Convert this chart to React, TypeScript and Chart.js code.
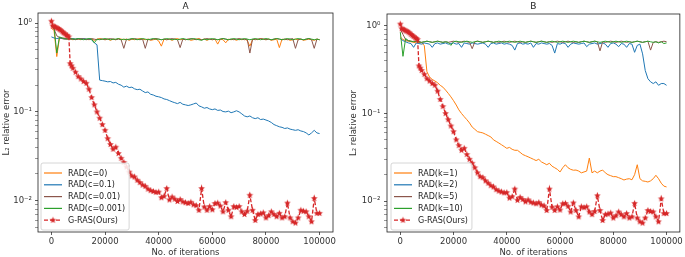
import React, { useEffect, useRef } from 'react';
import { Chart, registerables } from 'chart.js';
Chart.register(...registerables);

const FONT = '"DejaVu Sans", sans-serif';

// logging grid of the RAD runs (every 1000 iterations)
const ITERATIONS = Array.from({ length: 101 }, (_, i) => i * 1000);
const GRAS_ITER = [0, 500, 1000, 1500, 2000, 2500, 3000, 3500, 4000, 4500, 5000, 5500, 6000, 6500, 7000, 7500, 8000, ...ITERATIONS.slice(9)];

const X_TICKS = [0, 20000, 40000, 60000, 80000, 100000];
const Y_TICKS = [0.005, 0.006, 0.007, 0.008, 0.009, 0.01, 0.02, 0.03, 0.04, 0.05, 0.06, 0.07, 0.08, 0.09, 0.1, 0.2, 0.3, 0.4, 0.5, 0.6, 0.7, 0.8, 0.9, 1];
const Y_LABELS: Record<string, string> = { '1': '10⁰', '0.1': '10⁻¹', '0.01': '10⁻²' };

const GRAS = [
  1.05, 0.93, 0.92, 0.9, 0.88, 0.87, 0.85, 0.83, 0.8, 0.78, 0.76, 0.73, 0.72, 0.7, 0.35, 0.33, 0.31,
  0.28, 0.25, 0.235, 0.22, 0.21, 0.18, 0.145, 0.12, 0.1, 0.085, 0.072,
  0.062, 0.05, 0.043, 0.038, 0.04, 0.034, 0.03, 0.027, 0.024, 0.021,
  0.019, 0.0185, 0.017, 0.016, 0.015, 0.0145, 0.0135, 0.013, 0.0127, 0.0124,
  0.0125, 0.0108, 0.0112, 0.0137, 0.0102, 0.011, 0.0104, 0.0098, 0.0103, 0.0097,
  0.0095, 0.0093, 0.0096, 0.009, 0.0088, 0.0078, 0.0137, 0.0085, 0.0078, 0.0086,
  0.0079, 0.0093, 0.0094, 0.0087, 0.0075, 0.0095, 0.0078, 0.0066, 0.0086, 0.0084,
  0.0086, 0.0075, 0.007, 0.0076, 0.0115, 0.0078, 0.006, 0.007, 0.0071, 0.0073,
  0.0064, 0.0068, 0.0075, 0.007, 0.0066, 0.0072, 0.0064, 0.0066, 0.0094, 0.0064,
  0.0058, 0.0056, 0.0064, 0.0078, 0.0076, 0.0075, 0.0066, 0.0058, 0.0106, 0.0072, 0.0072,
];

// Panel A
const A_C0 = [
  0.88, 0.82, 0.42, 0.68, 0.67, 0.66, 0.67, 0.66, 0.65, 0.66,
  0.66, 0.65, 0.67, 0.66, 0.65, 0.66, 0.64, 0.66, 0.67, 0.66,
  0.65, 0.66, 0.64, 0.66, 0.65, 0.67, 0.66, 0.65, 0.66, 0.64,
  0.66, 0.65, 0.66, 0.67, 0.66, 0.65, 0.66, 0.64, 0.65, 0.66,
  0.63, 0.55, 0.66, 0.65, 0.66, 0.64, 0.66, 0.67, 0.65, 0.66,
  0.65, 0.66, 0.64, 0.65, 0.66, 0.67, 0.65, 0.66, 0.64, 0.66,
  0.65, 0.66, 0.58, 0.66, 0.65, 0.6, 0.66, 0.65, 0.66, 0.64,
  0.66, 0.65, 0.66, 0.64, 0.55, 0.65, 0.66, 0.65, 0.67, 0.66,
  0.65, 0.66, 0.64, 0.65, 0.66, 0.53, 0.66, 0.65, 0.66, 0.64,
  0.65, 0.66, 0.65, 0.66, 0.64, 0.65, 0.66, 0.65, 0.64, 0.66, 0.65,
];
const A_C01 = [
  0.7, 0.68, 0.67, 0.68, 0.67, 0.66, 0.67, 0.66, 0.67, 0.66,
  0.67, 0.66, 0.67, 0.66, 0.66, 0.65, 0.6, 0.57, 0.228, 0.225,
  0.222, 0.218, 0.22, 0.212, 0.215, 0.205, 0.2, 0.19, 0.195, 0.188,
  0.19, 0.182, 0.178, 0.18, 0.172, 0.165, 0.168, 0.158, 0.155, 0.15,
  0.148, 0.145, 0.14, 0.138, 0.134, 0.13, 0.127, 0.124, 0.128, 0.122,
  0.12, 0.118, 0.12, 0.123, 0.126, 0.117, 0.114, 0.11, 0.112, 0.108,
  0.106, 0.108, 0.104, 0.105, 0.101, 0.1, 0.102, 0.098, 0.1, 0.103,
  0.1, 0.095, 0.09, 0.088, 0.09, 0.086, 0.084, 0.086, 0.082, 0.083,
  0.081, 0.079, 0.076, 0.072, 0.07, 0.068, 0.067, 0.065, 0.066, 0.064,
  0.063, 0.062, 0.063, 0.061, 0.06, 0.058, 0.055, 0.058, 0.062, 0.058, 0.057,
];
const A_C001 = [
  0.95, 0.85, 0.72, 0.69, 0.68, 0.67, 0.66, 0.67, 0.66, 0.65,
  0.66, 0.67, 0.66, 0.65, 0.66, 0.67, 0.66, 0.65, 0.66, 0.66,
  0.65, 0.66, 0.67, 0.66, 0.65, 0.66, 0.65, 0.52, 0.66, 0.65,
  0.66, 0.67, 0.66, 0.65, 0.66, 0.52, 0.66, 0.65, 0.66, 0.67,
  0.66, 0.65, 0.66, 0.65, 0.66, 0.67, 0.66, 0.65, 0.53, 0.66,
  0.65, 0.66, 0.67, 0.66, 0.65, 0.66, 0.65, 0.66, 0.67, 0.66,
  0.65, 0.66, 0.65, 0.66, 0.67, 0.66, 0.65, 0.66, 0.65, 0.66,
  0.67, 0.66, 0.65, 0.66, 0.46, 0.66, 0.65, 0.66, 0.67, 0.66,
  0.65, 0.66, 0.65, 0.66, 0.67, 0.66, 0.65, 0.66, 0.65, 0.66,
  0.67, 0.52, 0.65, 0.66, 0.65, 0.66, 0.67, 0.65, 0.52, 0.66, 0.65,
];
const A_C0001 = [
  0.92, 0.9, 0.46, 0.7, 0.68, 0.67, 0.66, 0.67, 0.66, 0.66,
  0.67, 0.66, 0.65, 0.66, 0.67, 0.66, 0.6, 0.66, 0.65, 0.66,
  0.67, 0.66, 0.65, 0.66, 0.66, 0.67, 0.65, 0.66, 0.65, 0.66,
  0.67, 0.66, 0.65, 0.66, 0.67, 0.66, 0.65, 0.66, 0.67, 0.66,
  0.66, 0.65, 0.66, 0.67, 0.66, 0.65, 0.66, 0.65, 0.66, 0.67,
  0.66, 0.65, 0.66, 0.67, 0.66, 0.65, 0.64, 0.66, 0.65, 0.66,
  0.67, 0.66, 0.65, 0.66, 0.67, 0.66, 0.65, 0.66, 0.67, 0.66,
  0.65, 0.66, 0.67, 0.66, 0.65, 0.66, 0.67, 0.66, 0.65, 0.66,
  0.67, 0.66, 0.65, 0.66, 0.67, 0.66, 0.65, 0.66, 0.67, 0.66,
  0.65, 0.66, 0.67, 0.66, 0.65, 0.66, 0.67, 0.66, 0.65, 0.66, 0.65,
];

// Panel B
const B_K1 = [
  0.75, 0.7, 0.68, 0.67, 0.66, 0.65, 0.64, 0.65, 0.64, 0.6,
  0.3, 0.26, 0.245, 0.235, 0.225, 0.21, 0.2, 0.185, 0.17, 0.155,
  0.14, 0.125, 0.11, 0.1, 0.092, 0.085, 0.078, 0.07, 0.066, 0.062,
  0.061, 0.06, 0.058, 0.056, 0.054, 0.05, 0.048, 0.046, 0.044, 0.042,
  0.04, 0.041, 0.039, 0.038, 0.038, 0.036, 0.034, 0.033, 0.032, 0.031,
  0.03, 0.029, 0.03, 0.028, 0.027, 0.026, 0.027, 0.025, 0.024, 0.023,
  0.0215, 0.024, 0.026, 0.024, 0.023, 0.0225, 0.0226, 0.022, 0.021, 0.0215,
  0.022, 0.031, 0.021, 0.022, 0.021, 0.022, 0.0226, 0.021, 0.02, 0.0195,
  0.019, 0.019, 0.0185, 0.018, 0.0174, 0.0178, 0.018, 0.0175, 0.02, 0.026,
  0.018, 0.017, 0.0168, 0.0165, 0.017, 0.018, 0.0197, 0.018, 0.016, 0.0148, 0.0145,
];
const B_K2 = [
  0.72, 0.68, 0.66, 0.64, 0.63, 0.57, 0.64, 0.63, 0.62, 0.64,
  0.63, 0.62, 0.57, 0.63, 0.64, 0.62, 0.63, 0.64, 0.62, 0.63,
  0.64, 0.62, 0.63, 0.57, 0.64, 0.63, 0.62, 0.64, 0.63, 0.62,
  0.63, 0.64, 0.62, 0.57, 0.63, 0.64, 0.62, 0.63, 0.64, 0.62,
  0.63, 0.62, 0.6, 0.53, 0.63, 0.64, 0.62, 0.63, 0.62, 0.64,
  0.57, 0.63, 0.62, 0.64, 0.63, 0.62, 0.63, 0.6, 0.49, 0.63,
  0.62, 0.64, 0.63, 0.57, 0.62, 0.64, 0.63, 0.62, 0.63, 0.64,
  0.58, 0.62, 0.63, 0.64, 0.62, 0.63, 0.64, 0.62, 0.57, 0.63,
  0.64, 0.62, 0.58, 0.63, 0.62, 0.57, 0.63, 0.62, 0.5, 0.6,
  0.62, 0.48, 0.31, 0.25, 0.23, 0.22, 0.23, 0.21, 0.22, 0.22, 0.21,
];
const B_K5 = [
  0.92, 0.8, 0.7, 0.68, 0.67, 0.66, 0.67, 0.66, 0.65, 0.66,
  0.67, 0.66, 0.65, 0.66, 0.67, 0.66, 0.65, 0.66, 0.65, 0.66,
  0.67, 0.66, 0.65, 0.66, 0.67, 0.66, 0.65, 0.55, 0.66, 0.67,
  0.66, 0.65, 0.66, 0.67, 0.66, 0.65, 0.66, 0.65, 0.66, 0.67,
  0.66, 0.65, 0.66, 0.67, 0.66, 0.65, 0.66, 0.65, 0.66, 0.67,
  0.66, 0.65, 0.66, 0.67, 0.66, 0.65, 0.66, 0.65, 0.66, 0.67,
  0.66, 0.65, 0.66, 0.67, 0.66, 0.65, 0.66, 0.65, 0.66, 0.67,
  0.66, 0.65, 0.66, 0.67, 0.66, 0.52, 0.66, 0.65, 0.66, 0.67,
  0.66, 0.65, 0.66, 0.67, 0.66, 0.65, 0.66, 0.65, 0.66, 0.67,
  0.66, 0.65, 0.66, 0.67, 0.53, 0.65, 0.66, 0.65, 0.66, 0.67, 0.66,
];
const B_K10 = [
  0.85, 0.45, 0.72, 0.68, 0.67, 0.66, 0.67, 0.66, 0.65, 0.66,
  0.67, 0.66, 0.65, 0.66, 0.67, 0.66, 0.65, 0.66, 0.65, 0.6,
  0.66, 0.67, 0.66, 0.65, 0.66, 0.67, 0.66, 0.65, 0.66, 0.67,
  0.66, 0.65, 0.66, 0.67, 0.66, 0.65, 0.66, 0.67, 0.66, 0.65,
  0.66, 0.67, 0.66, 0.65, 0.66, 0.67, 0.66, 0.65, 0.66, 0.67,
  0.66, 0.65, 0.66, 0.67, 0.66, 0.65, 0.66, 0.67, 0.66, 0.65,
  0.66, 0.67, 0.66, 0.65, 0.66, 0.67, 0.66, 0.65, 0.66, 0.67,
  0.66, 0.65, 0.66, 0.67, 0.66, 0.65, 0.66, 0.67, 0.66, 0.65,
  0.66, 0.67, 0.66, 0.65, 0.66, 0.67, 0.66, 0.65, 0.66, 0.67,
  0.66, 0.65, 0.66, 0.67, 0.66, 0.65, 0.66, 0.64, 0.66, 0.63, 0.64,
];

const ORANGE = '#ff7f0e';
const BLUE = '#1f77b4';
const BROWN = '#8c564b';
const GREEN = '#2ca02c';
const RED = '#d62728';

type Series = { label: string; x: number[]; y: number[]; color: string; gras?: boolean };
type PanelCfg = {
  title: string; left: number; series: Series[]; yMin: number; yMax: number;
  pad: { left: number; top: number; right: number; bottom: number };
  yWidth: number; yTickPad: number; yTitlePad: number; legendDx: number;
};

const PANELS: PanelCfg[] = [
  {
    title: 'A', left: 0, yMin: 0.00444, yMax: 1.3,
    pad: { left: 0, top: 13, right: 7, bottom: 0 }, yWidth: 38, yTickPad: 3, yTitlePad: 2, legendDx: 3,
    series: [
      { label: 'RAD(c=0)', x: ITERATIONS, y: A_C0, color: ORANGE },
      { label: 'RAD(c=0.1)', x: ITERATIONS, y: A_C01, color: BLUE },
      { label: 'RAD(c=0.01)', x: ITERATIONS, y: A_C001, color: BROWN },
      { label: 'RAD(c=0.001)', x: ITERATIONS, y: A_C0001, color: GREEN },
      { label: 'G-RAS(Ours)', x: GRAS_ITER, y: GRAS, color: RED, gras: true },
    ],
  },
  {
    title: 'B', left: 345, yMin: 0.00443, yMax: 1.37,
    pad: { left: 0, top: 14, right: 5, bottom: 0 }, yWidth: 42, yTickPad: 3.5, yTitlePad: 4, legendDx: 4,
    series: [
      { label: 'RAD(k=1)', x: ITERATIONS, y: B_K1, color: ORANGE },
      { label: 'RAD(k=2)', x: ITERATIONS, y: B_K2, color: BLUE },
      { label: 'RAD(k=5)', x: ITERATIONS, y: B_K5, color: BROWN },
      { label: 'RAD(k=10)', x: ITERATIONS, y: B_K10, color: GREEN },
      { label: 'G-RAS(Ours)', x: GRAS_ITER, y: GRAS, color: RED, gras: true },
    ],
  },
];

function makeStar(color: string, r: number): HTMLCanvasElement {
  const c = document.createElement('canvas');
  const s = Math.ceil(r * 2) + 2;
  c.width = s; c.height = s;
  const ctx = c.getContext('2d')!;
  ctx.fillStyle = color;
  ctx.beginPath();
  for (let i = 0; i < 10; i++) {
    const a = -Math.PI / 2 + (i * Math.PI) / 5;
    const rr = i % 2 === 0 ? r : r * 0.45;
    ctx.lineTo(s / 2 + rr * Math.cos(a), s / 2 + rr * Math.sin(a));
  }
  ctx.closePath();
  ctx.fill();
  return c;
}

const isDecade = (v: number) => Math.abs(Math.log10(v) - Math.round(Math.log10(v))) < 1e-9;

function buildConfig(p: PanelCfg, star: HTMLCanvasElement): any {
  const n = p.series.length;
  const framePlugin = {
    id: 'frame' + p.title,
    afterDatasetsDraw(chart: any) {
      const { ctx, chartArea: ca } = chart;
      ctx.save();
      ctx.setTransform(1, 0, 0, 1, 0, 0);
      // axes frame
      ctx.strokeStyle = '#222';
      ctx.lineWidth = 0.8;
      ctx.strokeRect(ca.left, ca.top, ca.right - ca.left, ca.bottom - ca.top);
      // title
      ctx.fillStyle = '#222';
      ctx.font = `9px ${FONT}`;
      ctx.textAlign = 'center';
      ctx.textBaseline = 'middle';
      ctx.fillText(p.title, (ca.left + ca.right) / 2, 6.5);
      // legend: font calibrated so that "G-RAS(Ours)" is about 50px wide
      ctx.font = `8px ${FONT}`;
      const ref = ctx.measureText('G-RAS(Ours)').width || 50;
      const fs = Math.max(6, Math.min(11, (8 * 50) / ref));
      ctx.font = `${fs}px ${FONT}`;
      const maxW = Math.max(...p.series.map((s) => ctx.measureText(s.label).width));
      const bx = ca.left + p.legendDx;
      const bw = 27 + maxW + 4;
      const bh = 67;
      const by = ca.bottom - 2 - bh;
      ctx.fillStyle = 'rgba(255,255,255,0.85)';
      ctx.strokeStyle = '#cccccc';
      ctx.lineWidth = 0.8;
      ctx.beginPath();
      (ctx as any).roundRect(bx, by, bw, bh, 2);
      ctx.fill();
      ctx.stroke();
      ctx.textAlign = 'left';
      p.series.forEach((s, i) => {
        const yc = by + 10 + i * 11.8;
        ctx.strokeStyle = s.color;
        ctx.lineWidth = s.gras ? 1.3 : 1.2;
        ctx.setLineDash(s.gras ? [4, 2] : []);
        ctx.beginPath();
        ctx.moveTo(bx + 3, yc);
        ctx.lineTo(bx + 21, yc);
        ctx.stroke();
        ctx.setLineDash([]);
        if (s.gras) ctx.drawImage(star, bx + 12 - star.width / 2, yc - star.height / 2);
        ctx.fillStyle = '#222';
        ctx.fillText(s.label, bx + 27, yc + 0.5);
      });
      ctx.restore();
    },
  };
  return {
    type: 'line',
    data: {
      datasets: p.series.map((s, i) => ({
        label: s.label,
        data: s.x.map((x, j) => ({ x, y: s.y[j] })),
        borderColor: s.color,
        backgroundColor: s.color,
        borderWidth: s.gras ? 1.3 : 1,
        borderDash: s.gras ? [4, 2] : [],
        pointRadius: s.gras ? 3.5 : 0,
        pointStyle: s.gras ? star : 'circle',
        pointHoverRadius: 0,
        fill: false,
        tension: 0,
        order: n - i,
      })),
    },
    options: {
      animation: false,
      responsive: false,
      maintainAspectRatio: false,
      devicePixelRatio: 1,
      layout: { padding: p.pad },
      events: [],
      plugins: { legend: { display: false }, tooltip: { enabled: false }, title: { display: false } },
      scales: {
        x: {
          type: 'linear', min: -5000, max: 105000,
          afterBuildTicks: (sc: any) => { sc.ticks = X_TICKS.map((v) => ({ value: v })); },
          afterFit: (sc: any) => { sc.height = 25; },
          ticks: { autoSkip: false, maxRotation: 0, padding: 2, color: '#333', font: { family: FONT, size: 8.5 }, callback: (v: any) => String(v) },
          grid: { drawOnChartArea: false, drawTicks: true, tickLength: 3, tickColor: '#333', tickWidth: 0.8 },
          border: { display: false },
          title: { display: true, text: 'No. of iterations', color: '#333', font: { family: FONT, size: 8.5 }, padding: { top: 0, bottom: -1 } },
        },
        y: {
          type: 'logarithmic', min: p.yMin, max: p.yMax,
          afterBuildTicks: (sc: any) => { sc.ticks = Y_TICKS.map((v) => ({ value: v, major: isDecade(v) })); },
          afterFit: (sc: any) => { sc.width = p.yWidth; },
          ticks: {
            autoSkip: false, padding: p.yTickPad, color: '#333', font: { family: FONT, size: 8.5 },
            callback: (v: any) => (isDecade(Number(v)) ? Y_LABELS[String(Number(v))] ?? '' : ''),
          },
          grid: {
            drawOnChartArea: false, drawTicks: true, tickLength: 3, tickColor: '#333',
            tickWidth: (c: any) => (c.tick && isDecade(c.tick.value) ? 0.8 : 0.5),
          },
          border: { display: false },
          title: { display: true, text: 'L₂ relative error', color: '#333', font: { family: FONT, size: 8.5 }, padding: { top: p.yTitlePad, bottom: 0 } },
        },
      },
    },
    plugins: [framePlugin],
  };
}

function Panel({ p }: { p: PanelCfg }) {
  const ref = useRef<HTMLCanvasElement>(null);
  useEffect(() => {
    const star = makeStar(RED, 3.5);
    const chart = new Chart(ref.current!, buildConfig(p, star));
    return () => chart.destroy();
  }, [p]);
  return (
    <canvas
      ref={ref}
      width={340}
      height={257}
      style={{ position: 'absolute', left: p.left, top: 0, width: 340, height: 257 }}
    />
  );
}

export default function App() {
  return (
    <div style={{ position: 'absolute', left: 0, top: 0, width: 685, height: 257, background: '#fff', overflow: 'hidden' }}>
      {PANELS.map((p) => (
        <Panel key={p.title} p={p} />
      ))}
    </div>
  );
}
